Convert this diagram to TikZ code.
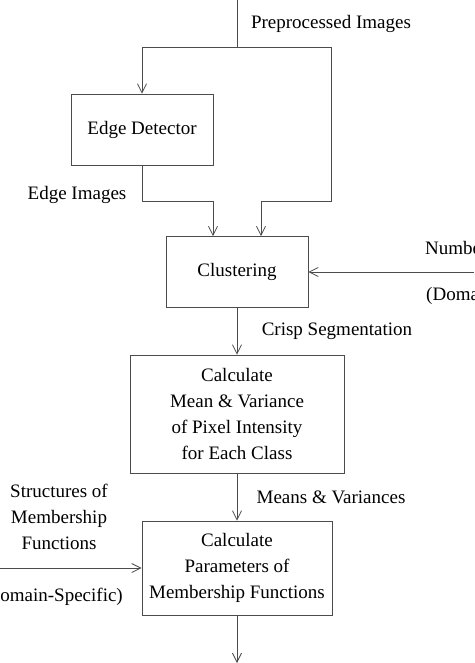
\documentclass[tikz,border=0pt]{standalone}
\usepackage{fontspec}
\setmainfont{Liberation Serif}
\usetikzlibrary{arrows.meta}
\begin{document}
\begin{tikzpicture}[x=1pt,y=-1pt,
  line/.style={draw=black!70, line width=0.9pt},
  arr/.style={line, -{Straight Barb[length=9pt,width=9pt,line width=0.8pt]}},
  box/.style={draw=black!70, line width=0.9pt, rectangle, inner sep=0pt, align=center, font=\fontsize{19}{26}\selectfont},
  lbl/.style={inner sep=0pt, align=center, font=\fontsize{19}{26}\selectfont}]
\useasboundingbox (0,0) rectangle (474,663);
% boxes
\node[box, minimum width=142pt, minimum height=71pt] (edge) at (142,129.5) {Edge Detector};
\node[box, minimum width=142pt, minimum height=71pt] (clus) at (237,272) {Clustering};
\node[box, minimum width=214pt, minimum height=118pt] (mean) at (237,414) {Calculate\\Mean \& Variance\\of Pixel Intensity\\for Each Class};
\node[box, minimum width=190pt, minimum height=94pt] (param) at (237,568) {Calculate\\Parameters of\\Membership Functions};
% coordinates
\coordinate (top) at (237,0);
\coordinate (split) at (237,47);
\coordinate (sl) at (142,47);
\coordinate (sr) at (331,47);
\coordinate (er) at (331,201);
\coordinate (er2) at (261,201);
\coordinate (el) at (142,201);
\coordinate (el2) at (213,201);
\coordinate (rin) at (474,272);
\coordinate (lin) at (0,568);
\coordinate (bot) at (237,663);
% connectors
\draw[line] (top) -- (split);
\draw[arr] (sl) -- (sr) (sl) -- (edge.north);
\draw[arr] (sr) -- (er) -- (er2) -- (er2 |- clus.north);
\draw[arr] (edge.south) -- (el) -- (el2) -- (el2 |- clus.north);
\draw[arr] (rin) -- (clus.east);
\draw[arr] (clus.south) -- (mean.north);
\draw[arr] (mean.south) -- (param.north);
\draw[arr] (lin) -- (param.west);
\draw[arr] (param.south) -- (bot);
% labels
\node[lbl] (l1) at (331,24) {Preprocessed Images};
\node[lbl] (l2) at (77,195) {Edge Images};
\node[lbl, anchor=west] (l3) at (425,248) {Number of Classes};
\node[lbl, anchor=west] (l4) at (426,296) {(Domain-Specific)};
\node[lbl] (l5) at (337,331) {Crisp Segmentation};
\node[lbl] (l6) at (331,497) {Means \& Variances};
\node[lbl] (l7) at (59,517) {Structures of\\Membership\\Functions};
\node[lbl, anchor=east] (l8) at (123,597) {(Domain-Specific)};
\end{tikzpicture}
\end{document}
